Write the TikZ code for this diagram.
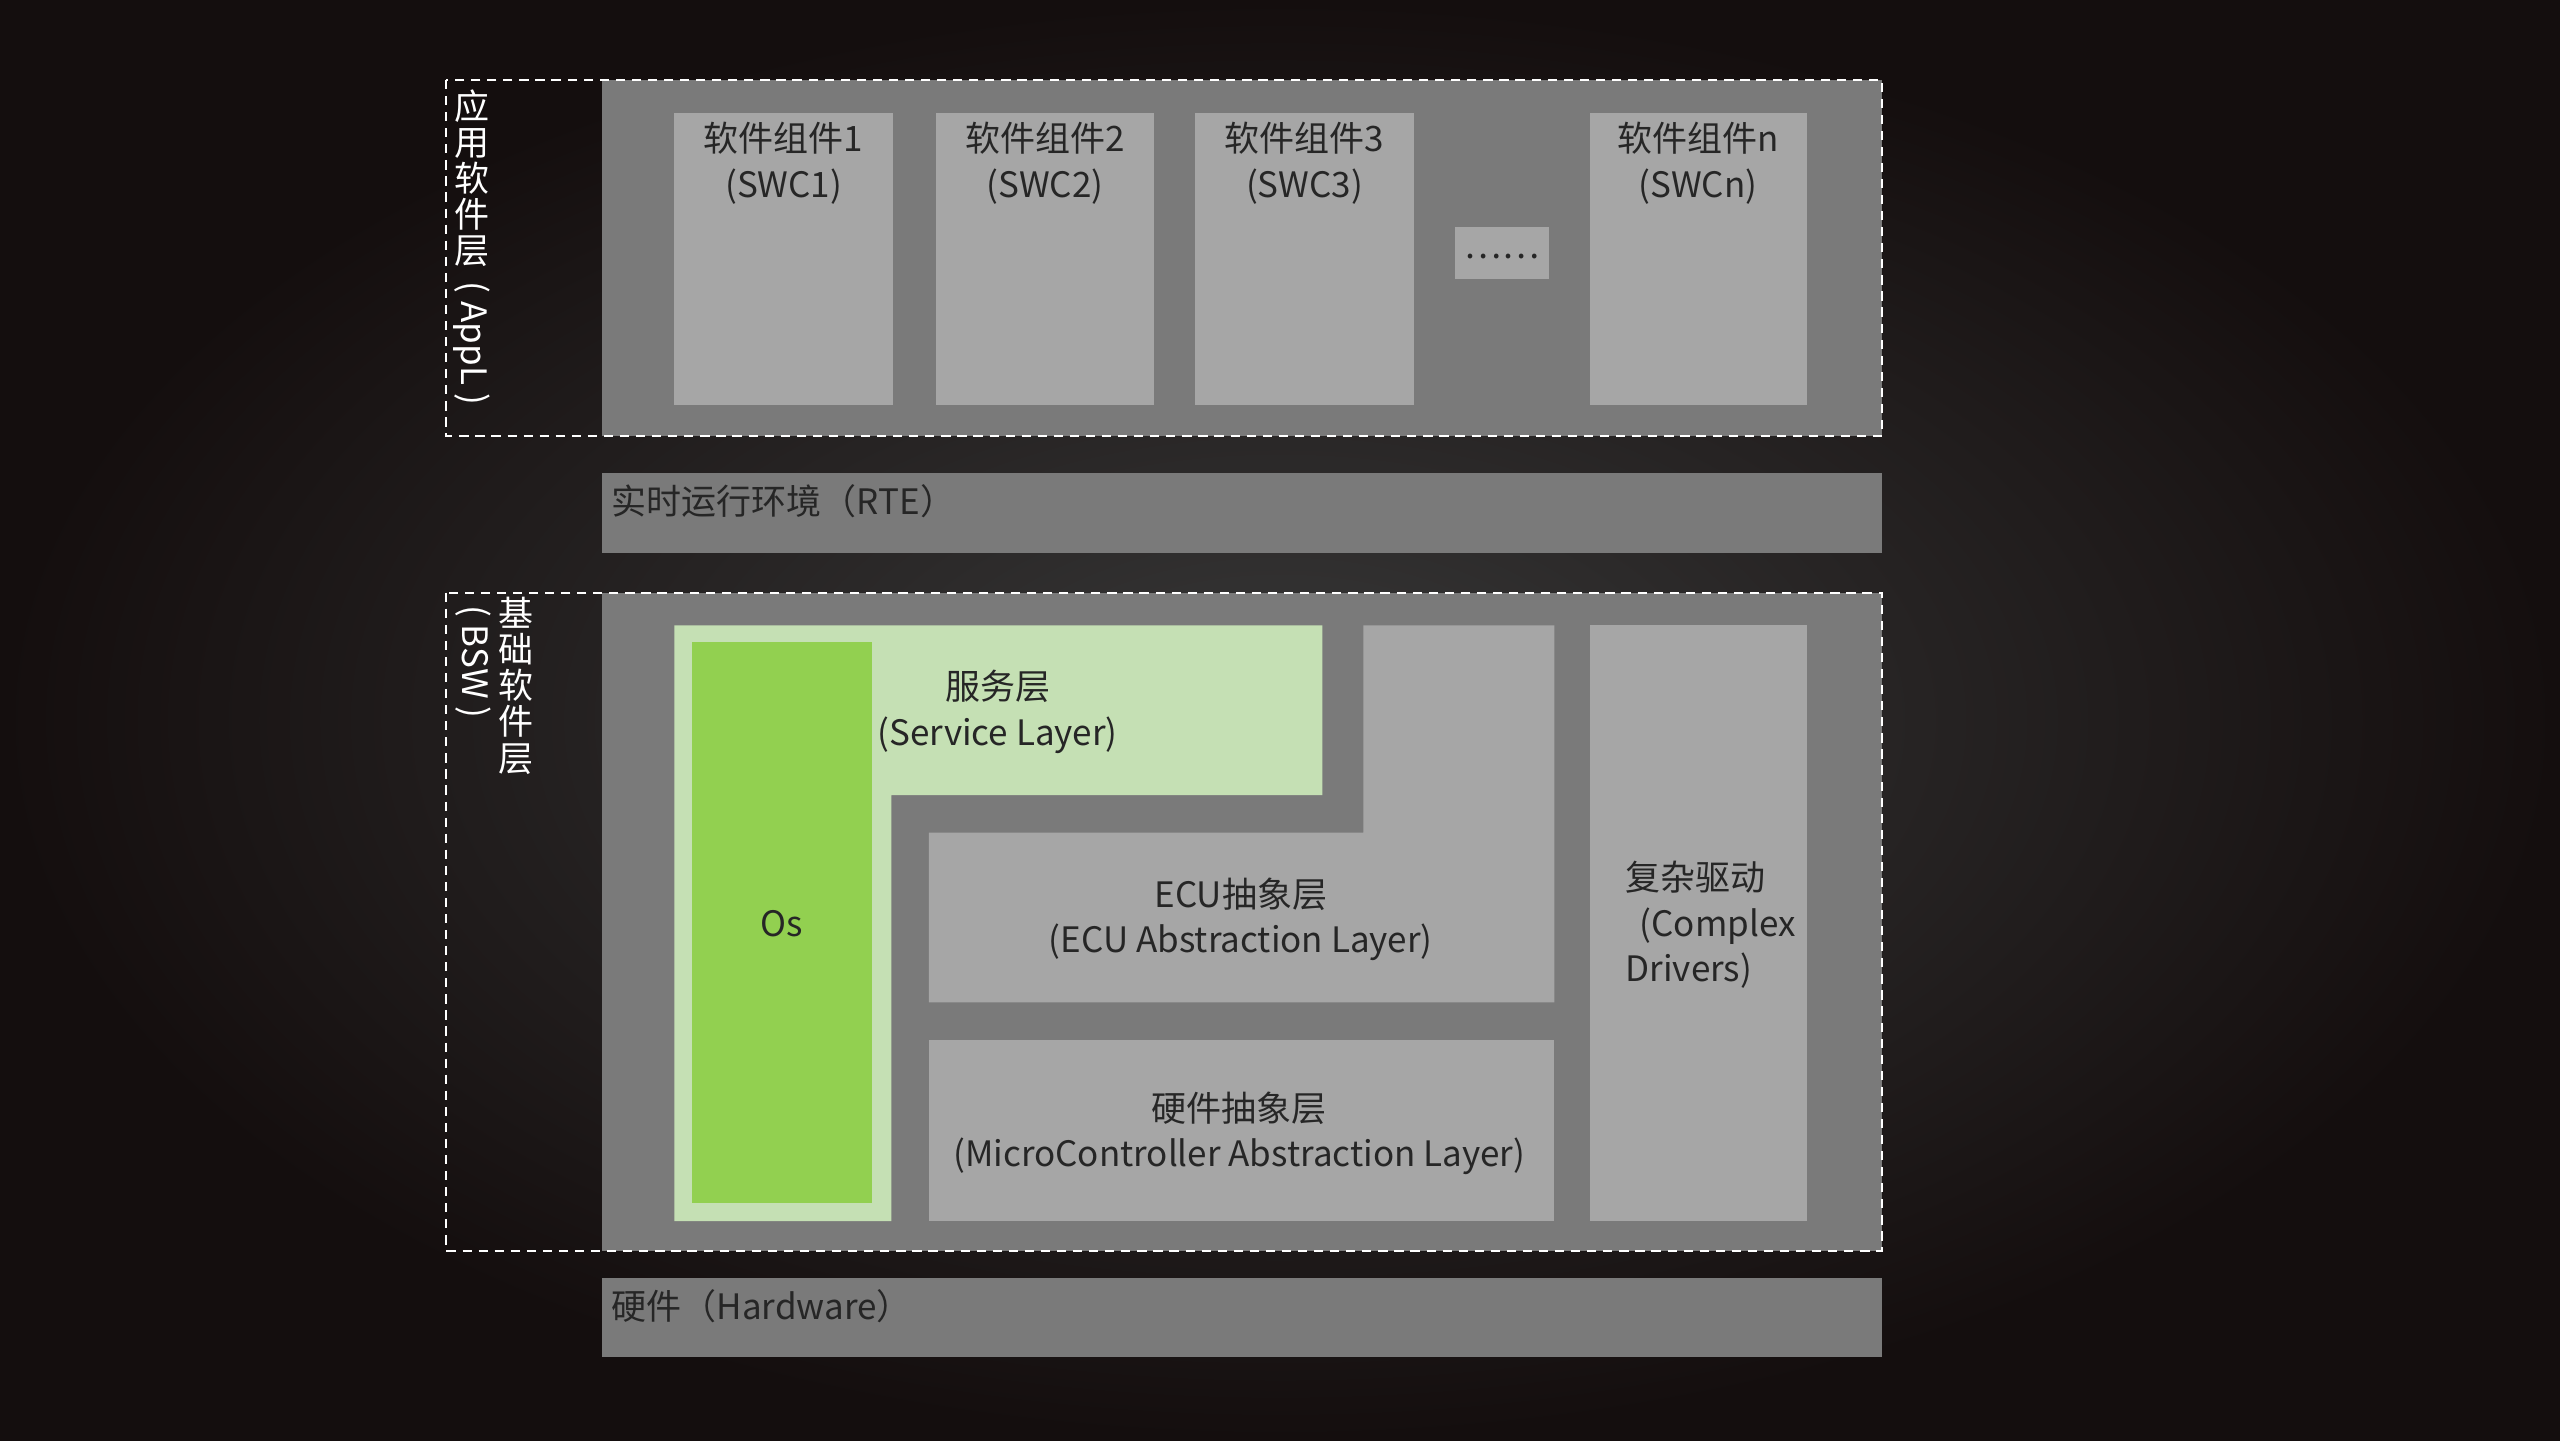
\documentclass[tikz,border=0pt]{standalone}
\usepackage{fontspec}
\setmainfont{Noto Sans CJK SC}
\begin{document}
\begin{tikzpicture}[x=0.1mm,y=-0.1mm,
  lbl/.style={text=black!85,font=\fontsize{6.1}{7.9}\selectfont,align=center,inner sep=0},
  vlbl/.style={text=white,font=\fontsize{6.1}{6.3}\selectfont,align=center,inner sep=0},
  dashbox/.style={draw=white,dashed,line width=0.35pt,dash pattern=on 1.6pt off 1.2pt}]
\definecolor{midgray}{HTML}{7A7A7A}
\definecolor{boxgray}{HTML}{A6A6A6}
\definecolor{lgreen}{HTML}{C5E0B4}
\definecolor{dgreen}{HTML}{92D050}
\definecolor{bgc}{HTML}{383838}
\definecolor{bgo}{HTML}{140E0E}
\useasboundingbox (0,0) rectangle (1568,882);
\shade[inner color=bgc,outer color=bgo] (0,0) rectangle (1568,882);
% application layer
\fill[midgray] (369,49) rectangle (1153,267);
\draw[dashbox] (273,49) rectangle (1153,267);
\foreach \x/\n in {413/1,573/2,732/3}{
  \fill[boxgray] (\x,69) rectangle ++(134,179);
  \node[lbl] (swc\n) at (\x+67,100) {软件组件\n\\(SWC\n)};
}
\fill[boxgray] (974,69) rectangle (1107,248);
\node[lbl] (swcn) at (1040,100) {软件组件n\\(SWCn)};
\fill[boxgray] (891,139) rectangle (949,171);
\node[lbl] (dots) at (920,157) {……};
\node[vlbl,anchor=north] (appl) at (289,54) {应\\用\\软\\件\\层};
\node[vlbl,rotate=-90,anchor=west] (appl2) at (289,172) {( AppL )};
% RTE
\fill[midgray] (369,290) rectangle (1153,339);
\node[lbl,anchor=west] (rte) at (374,307) {实时运行环境（RTE）};
% BSW
\fill[midgray] (369,363) rectangle (1153,766);
\draw[dashbox] (273,363) rectangle (1153,766);
\node[vlbl,anchor=north] (bsw) at (316,365) {基\\础\\软\\件\\层};
\node[vlbl,rotate=-90,anchor=west] (bsw2) at (290,370) {( BSW )};
\fill[lgreen] (413,383) -- (810,383) -- (810,487) -- (546,487) -- (546,748) -- (413,748) -- cycle;
\fill[dgreen] (424,393) rectangle (534,737);
\node[lbl] (os) at (479,566) {Os};
\node[lbl] (svc) at (611,436) {服务层\\(Service Layer)};
\fill[boxgray] (835,383) -- (952,383) -- (952,614) -- (569,614) -- (569,510) -- (835,510) -- cycle;
\node[lbl] (ecu) at (760,563) {ECU抽象层\\(ECU Abstraction Layer)};
\fill[boxgray] (569,637) rectangle (952,748);
\node[lbl] (mcal) at (759,694) {硬件抽象层\\(MicroController Abstraction Layer)};
\fill[boxgray] (974,383) rectangle (1107,748);
\node[lbl,align=left,anchor=north west] (cdd) at (995,527) {复杂驱动\\\hspace{0.4em}(Complex\\Drivers)};
% hardware
\fill[midgray] (369,783) rectangle (1153,831);
\node[lbl,anchor=west] (hw) at (374,800) {硬件（Hardware）};
\end{tikzpicture}
\end{document}
